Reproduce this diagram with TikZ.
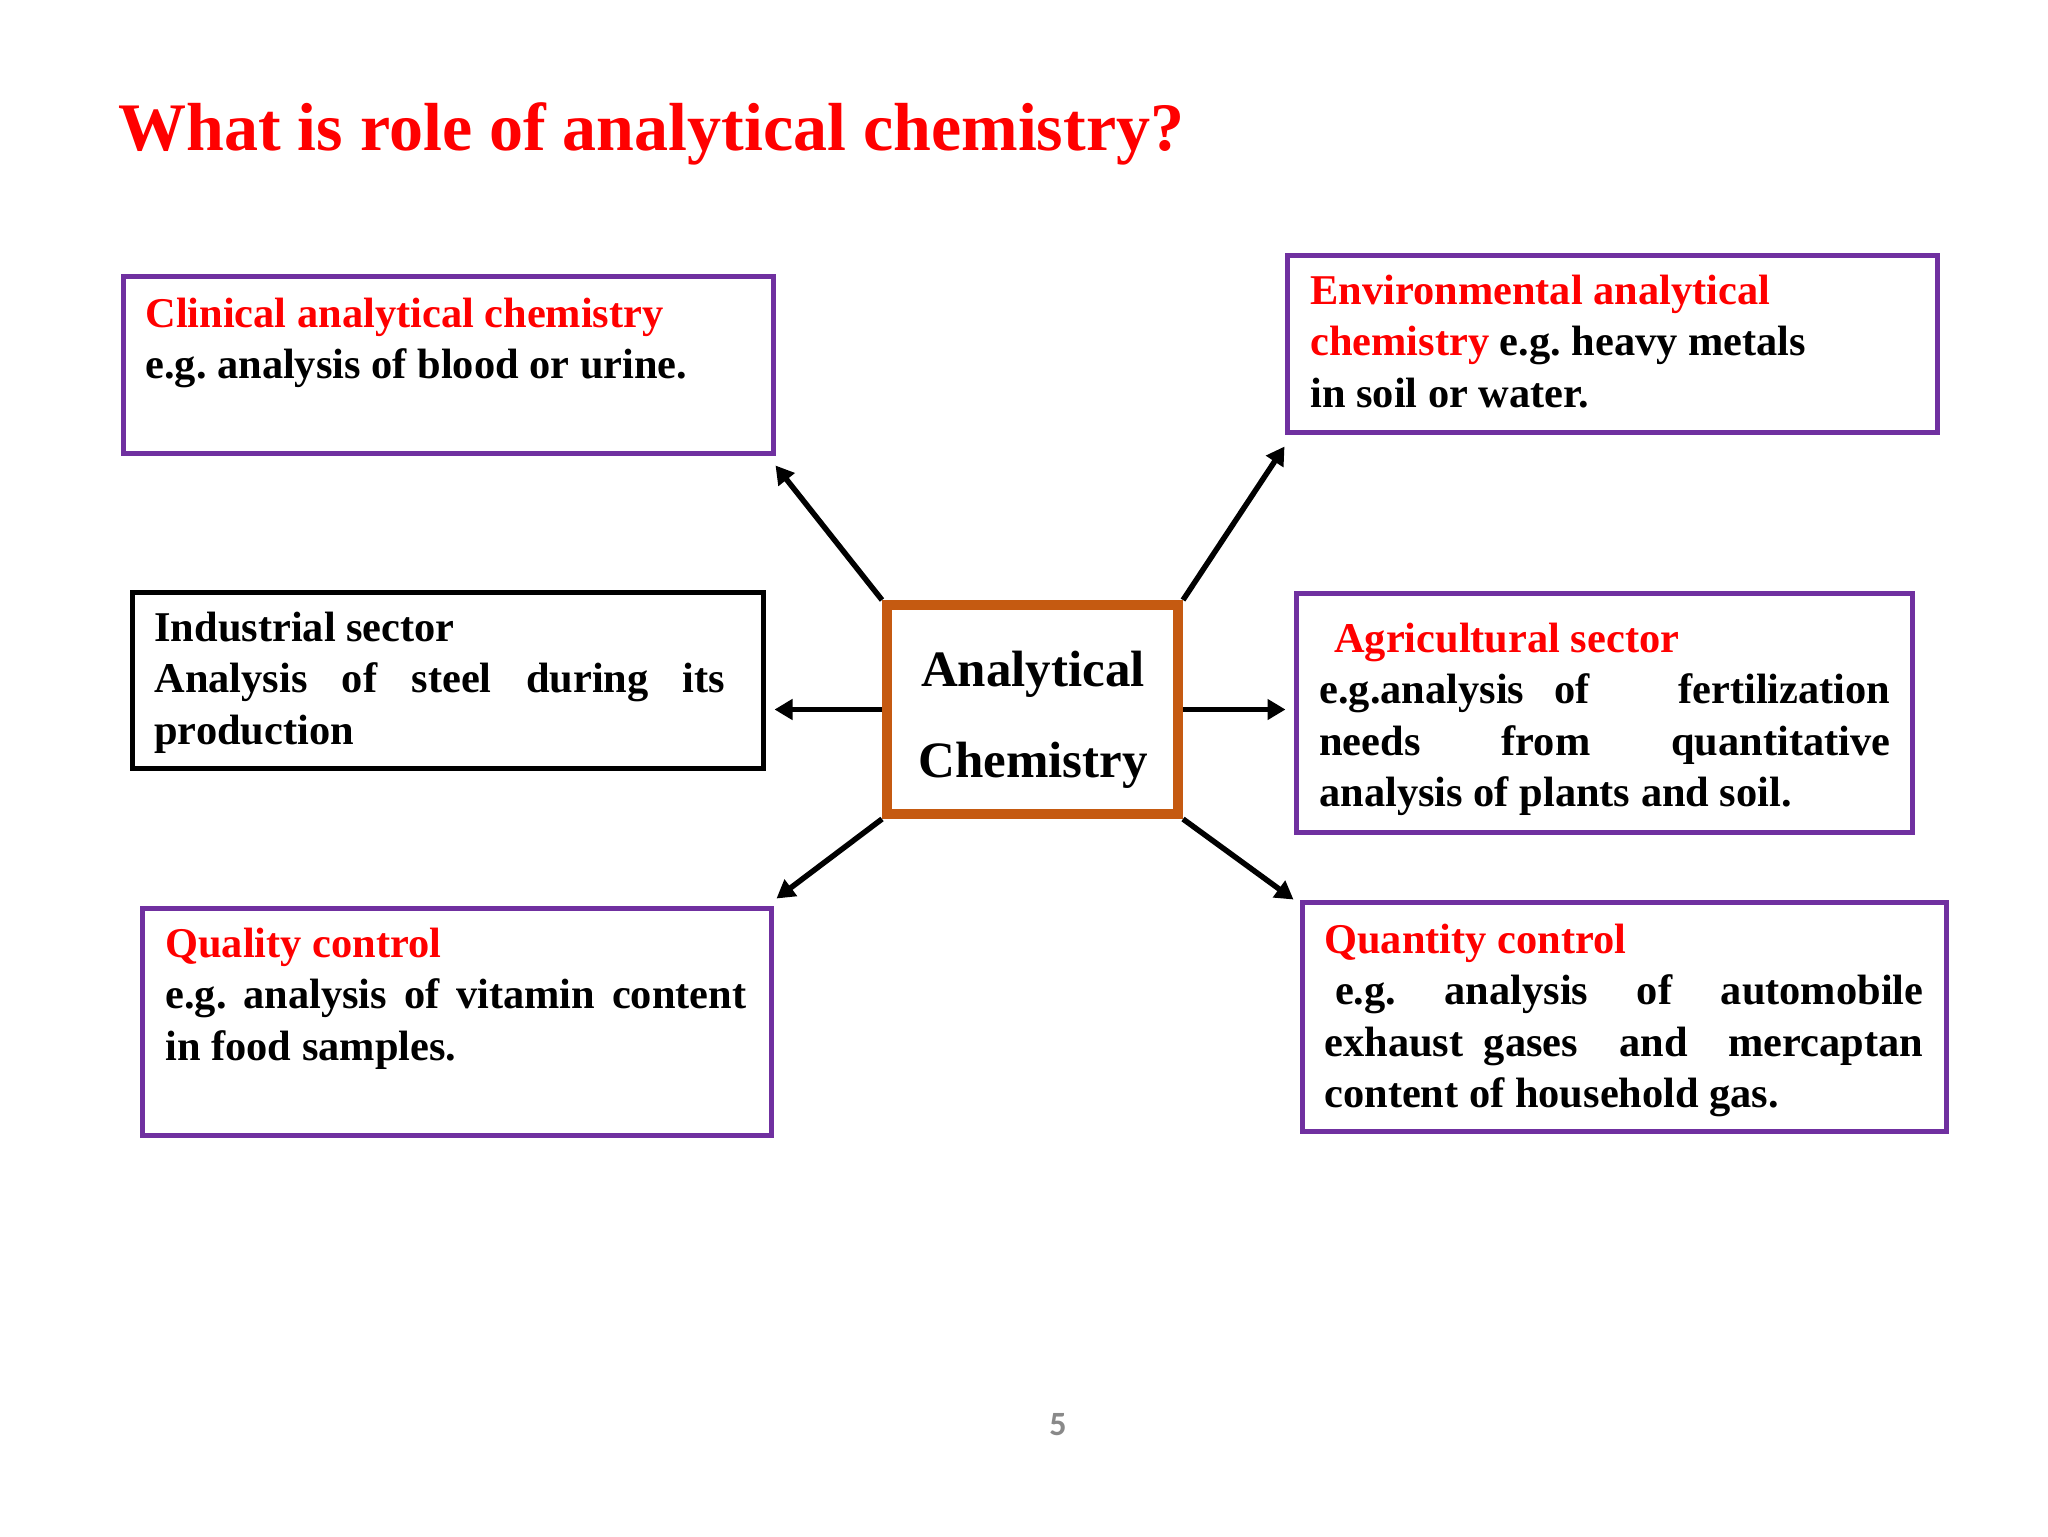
\documentclass[tikz,border=0pt]{standalone}
\usepackage{fontspec}
\setmainfont{Liberation Serif}
\newfontfamily\pagenumfont{Carlito}
\usetikzlibrary{arrows.meta,fit}
\definecolor{boxpurple}{HTML}{7030A0}
\definecolor{chembrown}{HTML}{C55A11}
\definecolor{pagegray}{HTML}{898989}
\tolerance=10000
\hbadness=10000
\frenchspacing
\tikzset{
	purplebox/.style={draw=boxpurple, line width=2.5pt, inner sep=0pt},
	blackbox/.style={draw=black, line width=2.5pt, inner sep=0pt},
	chembox/.style={draw=chembrown, fill=white, line width=5pt, inner sep=0pt},
	boxtext/.style={anchor=base west, inner sep=0pt, font=\bfseries\fontsize{21.2}{25.75}\selectfont},
	spoke/.style={line width=2.75pt, -{Triangle[length=9pt,width=10pt]}},
}

\begin{document}
\begin{tikzpicture}[x=0.5pt, y=-0.5pt]
		%%%%% START %%%%%
		
		\fill[white] (0, 0) rectangle (2048, 1536);
		
		\node[anchor=base west, inner sep=0pt, text=red, font=\bfseries\fontsize{34}{40}\selectfont] (title) at (118, 150) {What is role of analytical chemistry?};
		
		% boxes
		\node[purplebox, fit={(123, 276) (773, 453)}] (clin) {};
		\node[purplebox, fit={(1287, 255) (1937, 432)}] (env) {};
		\node[blackbox, fit={(132, 592) (763, 768)}] (ind) {};
		\node[chembox, fit={(887, 605) (1178, 814)}] (chem) {};
		\node[purplebox, fit={(1296, 593) (1912, 832)}] (agri) {};
		\node[purplebox, fit={(142, 908) (771, 1135)}] (qual) {};
		\node[purplebox, fit={(1302, 902) (1946, 1131)}] (quan) {};
		
		% texts
		\node[boxtext, text width=300pt, align=flush left] (clintxt) at (145, 327) {\textcolor{red}{Clinical analytical chemistry}\\ e.g. analysis of blood or urine.};
		\node[boxtext, text width=300pt, align=flush left] (envtxt) at (1310, 304) {\textcolor{red}{Environmental analytical}\\ \textcolor{red}{chemistry} e.g. heavy metals\\ in soil or water.};
		\node[boxtext, text width=285.5pt, align=justify] (indtxt) at (154, 641) {Industrial sector\\ Analysis of steel during its\linebreak production};
		\node[boxtext, text width=285.5pt, align=justify] (agritxt) at (1319, 652) {\hspace*{.35em}\textcolor{red}{Agricultural sector}\\ e.g.analysis of~~~fertilization\linebreak needs from quantitative\linebreak analysis of plants and soil.};
		\node[boxtext, text width=290.5pt, align=justify] (qualtxt) at (165, 957) {\textcolor{red}{Quality control}\\ e.g. analysis of vitamin content\linebreak in food samples.};
		\node[boxtext, text width=299.5pt, align=justify] (quantxt) at (1324, 953) {\textcolor{red}{Quantity control}\\ \hspace*{.25em}e.g. analysis of automobile\linebreak exhaust gases~~and~~mercaptan\linebreak content of household gas.};
		\node[anchor=base, inner sep=0pt, text width=145pt, align=center, font=\bfseries\fontsize{25.5}{45.5}\selectfont] (chemtxt) at (1033, 686) {Analytical\\ Chemistry};
		
		% arrows
		\draw[spoke] (chem.north west) -- ([yshift=-5pt]clin.south east);
		\draw[spoke] (chem.north east) -- ([yshift=-6pt]env.south west);
		\draw[spoke, shorten >=4.5pt] (chem.west) -- (chem.west -| ind.east);
		\draw[spoke, shorten >=4pt] (chem.east) -- (chem.east -| agri.west);
		\draw[spoke] (chem.south west) -- ([shift={(1.5pt, 3.5pt)}]qual.north east);
		\draw[spoke] (chem.south east) -- ([xshift=-3pt]quan.north west);
		
		\node[anchor=base, inner sep=0pt, text=pagegray, font=\pagenumfont\bfseries\fontsize{17}{20}\selectfont] (pagenum) at (1058, 1435) {5};
		
		%%%%% END %%%%%
	\end{tikzpicture}
\end{document}
